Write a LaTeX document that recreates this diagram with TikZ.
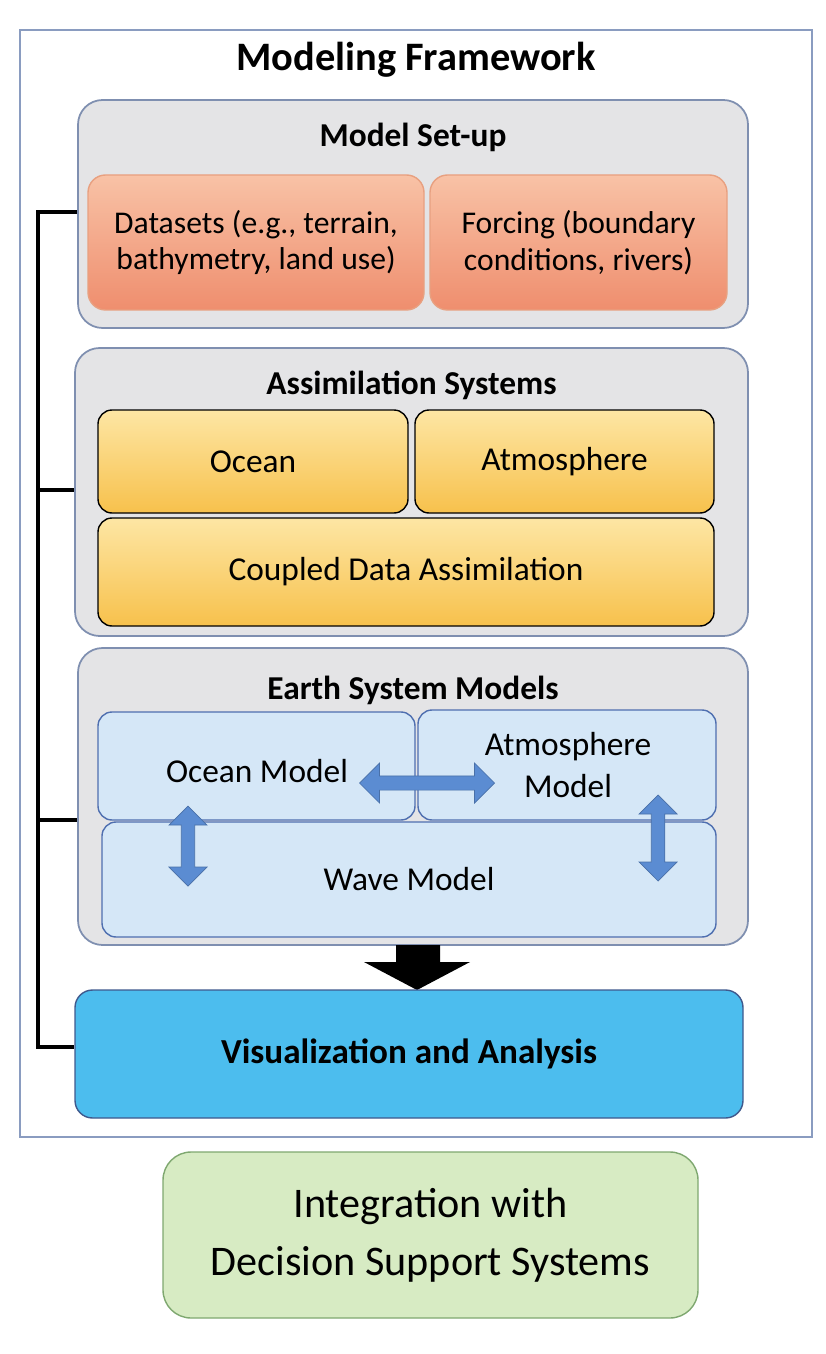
\documentclass[tikz,border=0pt]{standalone}
\usepackage{fontspec}
\setmainfont{Carlito}
\usetikzlibrary{shapes.arrows}
\definecolor{frame}{HTML}{8A9CC0}
\definecolor{grayf}{HTML}{E4E4E6}
\definecolor{graye}{HTML}{7F8FB0}
\definecolor{orT}{HTML}{F8C2A6}
\definecolor{orB}{HTML}{EF8E6E}
\definecolor{orE}{HTML}{E8A080}
\definecolor{yeT}{HTML}{FDE6A4}
\definecolor{yeB}{HTML}{F7C14C}
\definecolor{blf}{HTML}{D5E7F7}
\definecolor{ble}{HTML}{4F6FB0}
\definecolor{arr}{HTML}{5B8CD2}
\definecolor{viz}{HTML}{4CBDEE}
\definecolor{grf}{HTML}{D7EBC3}
\definecolor{gre}{HTML}{7FA870}
\tikzset{
 grp/.style={draw=graye,fill=grayf,rounded corners=14pt,line width=1pt},
 obox/.style={draw=orE,top color=orT,bottom color=orB,rounded corners=10pt,line width=0.8pt,align=center,font=\fontsize{18}{21}\selectfont},
 ybox/.style={draw=black,top color=yeT,bottom color=yeB,rounded corners=8pt,line width=0.8pt,align=center,font=\fontsize{19}{22}\selectfont},
 bbox/.style={draw=ble,fill=blf,rounded corners=8pt,line width=0.8pt,align=center,font=\fontsize{19}{22}\selectfont},
 ttl/.style={font=\bfseries\fontsize{19}{22}\selectfont},
 bar/.style={line width=2pt}
}
\newcommand\bx[6]{\node[#1,minimum width=#4*0.02cm,minimum height=#5*0.02cm,inner sep=0pt] (#2) at (#3) {#6};}
\begin{document}
\begin{tikzpicture}[x=0.02cm,y=-0.02cm]
\useasboundingbox (0,0) rectangle (825,1354);
\node[draw=frame,line width=0.8pt,minimum width=792*0.02cm,minimum height=1107*0.02cm,inner sep=0pt] (frm) at (416,583.5) {};
\node[font=\bfseries\fontsize{23}{26}\selectfont] (title) at (416,60) {Modeling Framework};
% Model set-up
\bx{grp}{setup}{413,214}{670}{228}{}
\node[ttl] (setupt) at (413,137) {Model Set-up};
\bx{obox}{data}{256,242.5}{336}{135}{Datasets (e.g., terrain,\\bathymetry, land use)}
\bx{obox}{forc}{578.5,242.5}{297}{135}{Forcing (boundary\\conditions, rivers)}
% Assimilation
\bx{grp}{assim}{411.5,492}{673}{288}{}
\node[ttl] (assimt) at (411.5,385) {Assimilation Systems};
\bx{ybox}{oce}{253,461.5}{310}{103}{Ocean}
\bx{ybox}{atm}{564.5,461.5}{299}{103}{Atmosphere}
\bx{ybox}{cda}{406,572}{616}{108}{Coupled Data Assimilation}
% Earth system
\bx{grp}{earth}{413,796.5}{670}{297}{}
\node[ttl] (eartht) at (413,690) {Earth System Models};
\bx{bbox}{wave}{409,879.5}{614}{115}{Wave Model}
\bx{bbox}{ocm}{256.5,766}{317}{108}{}
\bx{bbox}{atmm}{567,765}{298}{110}{}
\node[font=\fontsize{19}{24}\selectfont] (ocmt) at (257,771) {Ocean Model};
\node[font=\fontsize{19}{24}\selectfont,align=center] (atmt) at (568,765) {Atmosphere\\Model};
\node[double arrow,fill=arr,draw=arr!80!black,minimum width=40*0.02cm,double arrow head extend=4pt,minimum height=135*0.02cm,inner sep=2pt] (ha) at (427,783) {};
\node[double arrow,fill=arr,draw=arr!80!black,rotate=90,minimum width=38*0.02cm,double arrow head extend=4pt,minimum height=80*0.02cm,inner sep=2pt] (va1) at (188,846) {};
\node[double arrow,fill=arr,draw=arr!80!black,rotate=90,minimum width=38*0.02cm,double arrow head extend=4pt,minimum height=86*0.02cm,inner sep=2pt] (va2) at (658,838) {};
% black arrow
\fill[black] (396,945) -- (440,945) -- (440,962) -- (470,962) -- (417,990) -- (364,962) -- (396,962) -- cycle;
% Visualization
\bx{draw=ble!80!black,fill=viz,rounded corners=10pt,line width=0.8pt,font=\bfseries\fontsize{20}{24}\selectfont}{viz}{409,1054}{668}{128}{Visualization and Analysis}
% Decision support
\bx{draw=gre,fill=grf,rounded corners=16pt,line width=0.8pt,align=center,font=\fontsize{24}{33}\selectfont}{dss}{430.5,1235}{535}{166}{Integration with\\Decision Support Systems}
% bracket
\coordinate (b1) at (38,212);
\coordinate (b4) at (38,1047);
\draw[bar] (setup.west|-b1) -- (b1) -- (b4) -- (viz.west|-b4);
\draw[bar] (38,490) -- (assim.west|-0,490);
\draw[bar] (38,820) -- (earth.west|-0,820);
\end{tikzpicture}
\end{document}
